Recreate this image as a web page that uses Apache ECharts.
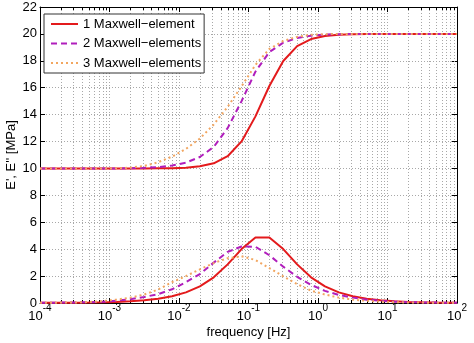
<!DOCTYPE html>
<html>
<head>
<meta charset="utf-8">
<script src="https://cdn.jsdelivr.net/npm/echarts@6/dist/echarts.min.js"></script>
<style>
html,body{margin:0;padding:0;background:#fff;}
#chart{width:474px;height:343px;}
</style>
</head>
<body>
<div id="chart"></div>
<script>
// frequency samples [Hz]
const freqHz = [1e-4,
  1.259e-4, 1.995e-4, 3.162e-4, 5.012e-4, 7.943e-4,
  1.259e-3, 1.995e-3, 3.162e-3, 5.012e-3, 7.943e-3,
  1.259e-2, 1.995e-2, 3.162e-2, 5.012e-2, 7.943e-2,
  0.1259, 0.1995, 0.3162, 0.5012, 0.7943,
  1.259, 1.995, 3.162, 5.012, 7.943,
  12.59, 19.95, 31.62, 50.12, 79.43,
  100];

const seriesNames = ['1 Maxwell\u2212element', '2 Maxwell\u2212elements', '3 Maxwell\u2212elements'];

// storage modulus E' [MPa]
const storage1 = [10,10,10,10,10,10, 10,10,10,10.01,10.02, 10.06,10.16,10.38,10.91,12.01, 13.87,16.13,17.99,19.09,19.62, 19.84,19.94,19.98,19.99,20, 20,20,20,20,20, 20];
const storage2 = [10,10,10,10,10,10, 10,10.02,10.05,10.1,10.22, 10.43,10.85,11.6,13.0,15.0, 17.2,18.65,19.35,19.7,19.87, 19.95,19.98,20,20,20, 20,20,20,20,20, 20];
const storage3 = [10,10,10,10,10,10, 10.01,10.06,10.19,10.46,10.88, 11.45,12.22,13.27,14.58,16.1, 17.7,18.88,19.48,19.78,19.93, 19.98,19.99,20,20,20, 20,20,20,20,20, 20];

// loss modulus E'' [MPa]
const loss1 = [0.01, 0.01,0.01,0.02,0.03,0.05, 0.08,0.13,0.2,0.32,0.5, 0.79,1.24,1.91,2.87,4.01, 4.87,4.87,4.01,2.87,1.91, 1.24,0.79,0.5,0.32,0.2, 0.13,0.08,0.05,0.03,0.02, 0.02];
const loss2 = [0.01, 0.02,0.03,0.04,0.06,0.1, 0.17,0.28,0.45,0.66,1.02, 1.55,2.15,3.0,3.8,4.2, 4.18,3.55,2.7,1.95,1.35, 0.9,0.6,0.4,0.25,0.16, 0.1,0.06,0.04,0.03,0.02, 0.01];
const loss3 = [0.01, 0.02,0.03,0.04,0.07,0.14, 0.25,0.4,0.63,1.0,1.55, 2.0,2.5,2.97,3.33,3.47, 3.2,2.6,1.98,1.4,0.92, 0.63,0.4,0.25,0.16,0.1, 0.06,0.04,0.03,0.02,0.01, 0.01];

// axis ticks
const xMin = 1e-4, xMax = 1e2;
const yMin = 0, yMax = 22, yStep = 2;
const decades = [1e-4, 1e-3, 1e-2, 1e-1, 1e0, 1e1];
const minorMultipliers = [2,3,4,5,6,7,8,9];

const minorX = [];
decades.forEach(d => minorMultipliers.forEach(m => minorX.push([d * m, 0])));

const pair = (ys) => freqHz.map((f, i) => [f, ys[i]]);

const colors = ['#e31a1c', '#b01ebc', '#f2a660'];
const dashes = ['solid', [6, 4], [2, 3]];
const FONT = 'Liberation Sans, Arial, Helvetica, sans-serif';
const gridColor = '#a8a8a8';

function lineSeries(idx, ys) {
  return {
    type: 'line', name: seriesNames[idx], data: pair(ys),
    symbol: 'none', showSymbol: false, smooth: false,
    lineStyle: { color: colors[idx], width: 2, type: dashes[idx] },
    itemStyle: { color: colors[idx] },
    z: 3 + idx, animation: false
  };
}

const chart = echarts.init(document.getElementById('chart'), null, { renderer: 'canvas' });

const commonX = {
  type: 'log', logBase: 10, min: xMin, max: xMax, splitNumber: 6,
  axisLine: { show: true, onZero: false, lineStyle: { color: '#000', width: 1 } },
  axisTick: { show: true, inside: true, length: 5, lineStyle: { color: '#000' } },
  minorTick: { show: false }, minorSplitLine: { show: false }
};
const commonY = {
  type: 'value', min: yMin, max: yMax, interval: yStep,
  axisLine: { show: true, onZero: false, lineStyle: { color: '#000', width: 1 } },
  axisTick: { show: true, inside: true, length: 5, lineStyle: { color: '#000' } }
};

chart.setOption({
  animation: false,
  backgroundColor: '#fff',
  grid: { left: 40, right: 17, top: 7, bottom: 40, containLabel: false, outerBoundsMode: 'none', show: true, backgroundColor: '#fff', borderWidth: 0 },
  legend: {
    show: true, orient: 'vertical', left: 44, top: 14,
    data: seriesNames,
    itemWidth: 27, itemHeight: 14, itemGap: 5.5,
    padding: [3, 3, 3, 6],
    backgroundColor: '#fff', borderColor: '#333', borderWidth: 1,
    itemStyle: { opacity: 0 },
    textStyle: { fontFamily: FONT, fontSize: 13, color: '#000', lineHeight: 14 },
    selectedMode: false
  },
  xAxis: [
    Object.assign({}, commonX, {
      position: 'bottom',
      name: 'frequency [Hz]', nameLocation: 'middle', nameGap: 23, nameMoveOverlap: false,
      nameTextStyle: { fontFamily: FONT, fontSize: 13, color: '#000' },
      axisLabel: {
        show: true, margin: 0,
        formatter: v => '{b|10}{s|' + Math.round(Math.log10(v)) + '}',
        rich: {
          b: { fontFamily: FONT, fontSize: 13, color: '#000', lineHeight: 20, verticalAlign: 'bottom' },
          s: { fontFamily: FONT, fontSize: 10, color: '#000', lineHeight: 8, verticalAlign: 'top' }
        }
      },
      splitLine: { show: true, lineStyle: { color: gridColor, type: [1, 2], width: 1 } }
    }),
    Object.assign({}, commonX, {
      position: 'top', axisLabel: { show: false }, splitLine: { show: false }
    })
  ],
  yAxis: [
    Object.assign({}, commonY, {
      position: 'left',
      name: "E', E'' [MPa]", nameLocation: 'middle', nameGap: 22, nameMoveOverlap: false,
      nameTextStyle: { fontFamily: FONT, fontSize: 13, color: '#000' },
      axisLabel: { show: true, margin: 3, fontFamily: FONT, fontSize: 13, color: '#000' },
      splitLine: { show: true, lineStyle: { color: gridColor, type: [1, 2], width: 1 } }
    }),
    Object.assign({}, commonY, {
      position: 'right', axisLabel: { show: false }, splitLine: { show: false }
    })
  ],
  series: [
    {
      type: 'custom', name: 'minor', coordinateSystem: 'cartesian2d',
      xAxisIndex: 0, yAxisIndex: 0, data: minorX, silent: true, z: 1, clip: false,
      animation: false,
      renderItem: function (params, api) {
        const cs = params.coordSys;
        const x = Math.round(api.coord([api.value(0), 0])[0]) + 0.5;
        const top = cs.y, bot = cs.y + cs.height;
        return {
          type: 'group', children: [
            { type: 'line', shape: { x1: x, y1: top, x2: x, y2: bot }, style: { stroke: gridColor, lineWidth: 1, lineDash: [1, 2] } },
            { type: 'line', shape: { x1: x, y1: bot, x2: x, y2: bot - 3 }, style: { stroke: '#000', lineWidth: 1 } },
            { type: 'line', shape: { x1: x, y1: top, x2: x, y2: top + 3 }, style: { stroke: '#000', lineWidth: 1 } }
          ]
        };
      }
    },
    lineSeries(0, storage1), lineSeries(0, loss1),
    lineSeries(1, storage2), lineSeries(1, loss2),
    lineSeries(2, storage3), lineSeries(2, loss3)
  ]
});
</script>
</body>
</html>
